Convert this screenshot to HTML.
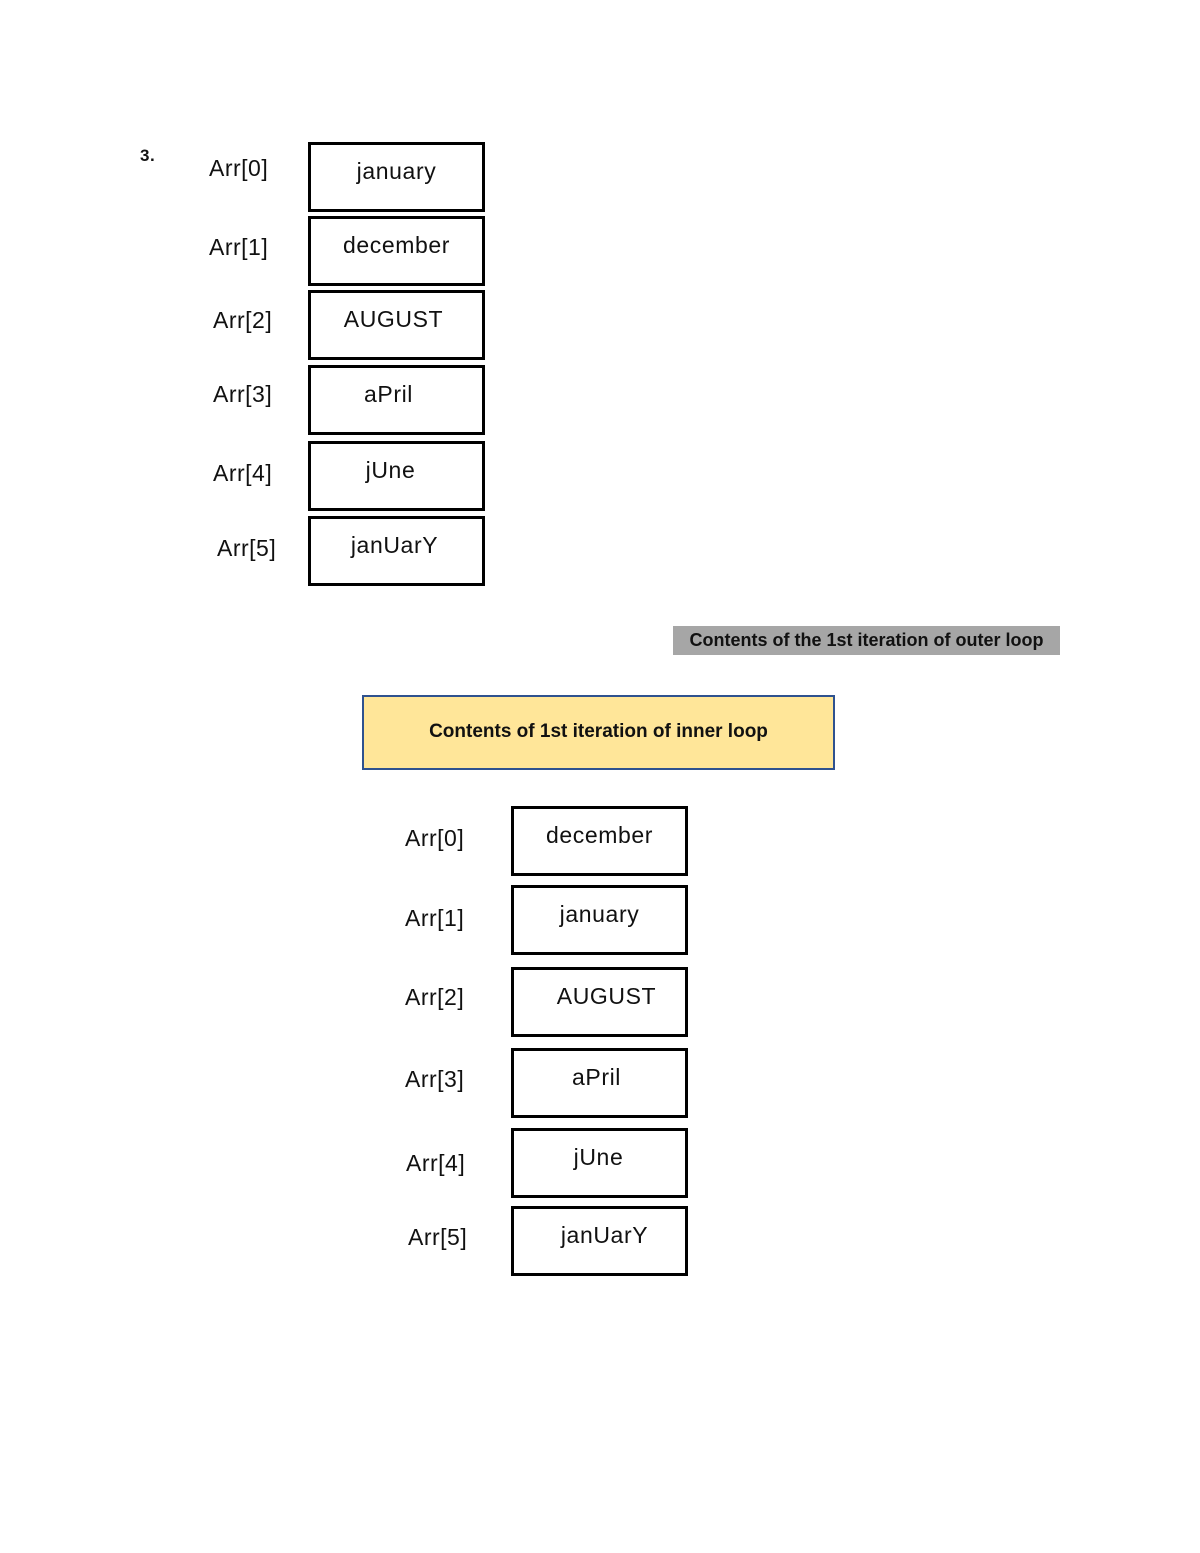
<!DOCTYPE html>
<html><head><style>
body{margin:0;width:1200px;height:1553px;background:#fff;position:relative;font-family:"Liberation Sans",sans-serif;}
.a{position:absolute;font-size:23px;color:#111;line-height:30px;transform:translateY(-15px);letter-spacing:0.5px;}
.b{position:absolute;border:3px solid #000;box-sizing:border-box;width:177px;height:70px;}
.b span{position:absolute;left:0;right:0;top:11px;text-align:center;font-size:23px;line-height:30px;color:#111;letter-spacing:0.6px;}
</style></head><body>
<div class="a" style="left:140px;top:156px;font-size:17px;font-weight:bold;">3.</div>

<div class="a" style="left:209px;top:168px">Arr[0]</div>
<div class="a" style="left:209px;top:247px">Arr[1]</div>
<div class="a" style="left:213px;top:320px">Arr[2]</div>
<div class="a" style="left:213px;top:394px">Arr[3]</div>
<div class="a" style="left:213px;top:473px">Arr[4]</div>
<div class="a" style="left:217px;top:548px">Arr[5]</div>

<div class="b" style="left:308px;top:142px"><span>january</span></div>
<div class="b" style="left:308px;top:216px"><span>december</span></div>
<div class="b" style="left:308px;top:290px"><span style="left:-6px">AUGUST</span></div>
<div class="b" style="left:308px;top:365px"><span style="left:-16px">aPril</span></div>
<div class="b" style="left:308px;top:441px"><span style="left:-12px">jUne</span></div>
<div class="b" style="left:308px;top:516px"><span style="left:-4px">janUarY</span></div>

<div style="position:absolute;left:673px;top:626px;width:387px;height:29px;background:#a6a6a6;font-size:18px;font-weight:bold;line-height:29px;text-align:center;color:#111;letter-spacing:0px;">Contents of the 1st iteration of outer loop</div>

<div style="position:absolute;left:362px;top:695px;width:473px;height:75px;box-sizing:border-box;border:2px solid #2f528f;background:#ffe699;font-size:19px;font-weight:bold;line-height:69px;text-align:center;color:#111;">Contents of 1st iteration of inner loop</div>

<div class="a" style="left:405px;top:838px">Arr[0]</div>
<div class="a" style="left:405px;top:918px">Arr[1]</div>
<div class="a" style="left:405px;top:997px">Arr[2]</div>
<div class="a" style="left:405px;top:1079px">Arr[3]</div>
<div class="a" style="left:406px;top:1163px">Arr[4]</div>
<div class="a" style="left:408px;top:1237px">Arr[5]</div>

<div class="b" style="left:511px;top:806px"><span>december</span></div>
<div class="b" style="left:511px;top:885px"><span>january</span></div>
<div class="b" style="left:511px;top:967px"><span style="left:14px">AUGUST</span></div>
<div class="b" style="left:511px;top:1048px"><span style="left:-6px">aPril</span></div>
<div class="b" style="left:511px;top:1128px"><span style="left:-2px">jUne</span></div>
<div class="b" style="left:511px;top:1206px"><span style="left:10px">janUarY</span></div>
</body></html>
